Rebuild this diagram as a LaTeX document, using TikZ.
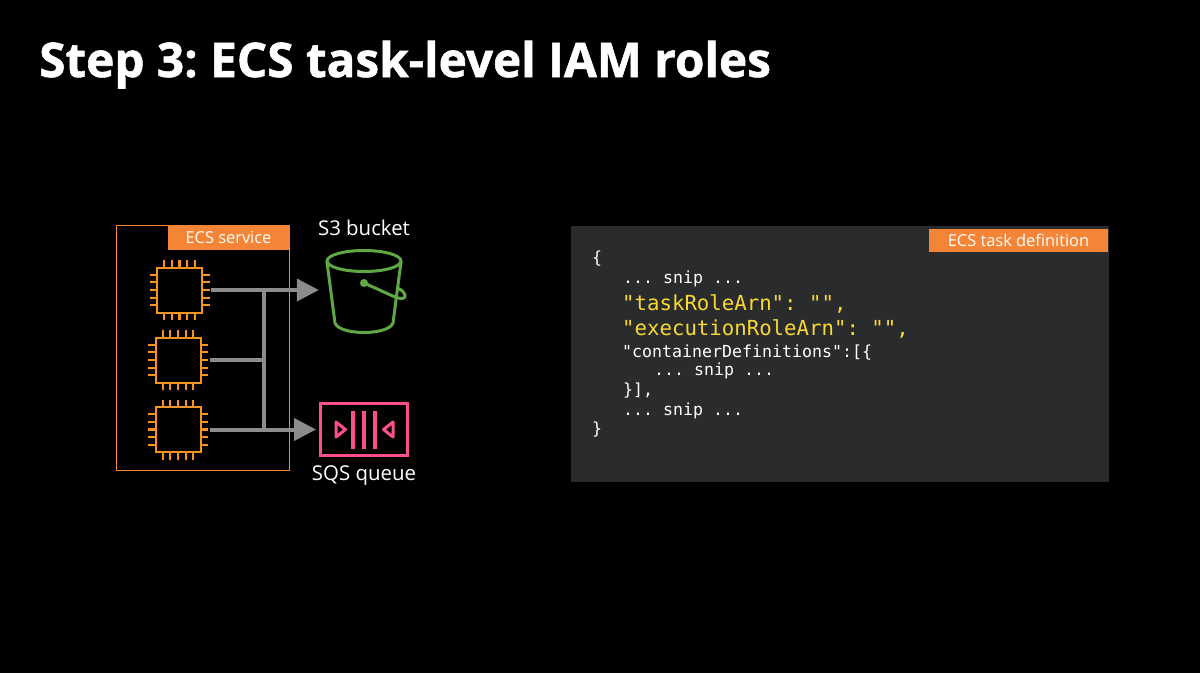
\documentclass[tikz,border=0pt]{standalone}
\usepackage{fontspec}
\setmainfont{Open Sans}
\setmonofont{DejaVu Sans Mono}
\newfontfamily\titlefont[BoldFeatures={FakeBold=1.2}]{Open Sans}
\usetikzlibrary{arrows.meta}
\definecolor{tagorange}{HTML}{F58536}
\definecolor{chiporange}{HTML}{F7931E}
\definecolor{bucketgreen}{HTML}{60A844}
\definecolor{queuepink}{HTML}{FF4F8B}
\definecolor{linkgray}{HTML}{8C8C8C}
\definecolor{panelgray}{HTML}{2A2B2D}
\definecolor{codeyellow}{HTML}{F8D92F}
\tikzset{
	tagbox/.style={fill=tagorange,text=white,anchor=center,inner sep=0pt,font=\fontsize{16.4}{17}\selectfont},
	chipbox/.style={draw=chiporange,line width=2pt,minimum size=45pt,inner sep=0pt},
	chippin/.style={draw=chiporange,line width=2.2pt},
	link/.style={draw=linkgray,line width=4pt},
	linkhead/.style={link,-{Triangle[length=22pt,width=22pt]}},
	iconlabel/.style={text=white,anchor=center,font=\fontsize{20.4}{21}\selectfont},
	codeline/.style={text=white,anchor=base west,inner sep=0pt,font=\ttfamily\fontsize{16.6}{17}\selectfont},
	codehilite/.style={codeline,text=codeyellow,font=\ttfamily\fontsize{20.7}{21}\selectfont},
}
\begin{document}
\begin{tikzpicture}[x=1pt,y=-1pt]
	\fill[black] (0,0) rectangle (1200,673);
	\useasboundingbox (0,0) rectangle (1200,673);
	\node[text=white,anchor=base west,inner sep=0pt,font=\titlefont\bfseries\frenchspacing\fontsize{47.7}{48}\selectfont] (title) at (39,77)
		{Step 3: ECS task-level IAM roles};

	% service frame
	\draw[tagorange,line width=1pt] (116,225) rectangle (289,470);
	\node[tagbox,minimum width=121pt,minimum height=25pt] (servicetag) at (228.5,237.5) {ECS service};

	% chips
	\foreach \n/\cx/\cy in {chipa/179.5/290,chipb/178/360,chipc/178/429.5} {
		\node[chipbox] (\n) at (\cx,\cy) {};
		\foreach \d in {-15.3,-7.65,0,7.65,15.3} {
			\draw[chippin] (\cx+\d,\cy-22.5) -- ++(0,-7.5);
			\draw[chippin] (\cx+\d,\cy+22.5) -- ++(0,7.5);
			\draw[chippin] (\cx-22.5,\cy+\d) -- ++(-7.5,0);
			\draw[chippin] (\cx+22.5,\cy+\d) -- ++(7.5,0);
		}
	}

	% bucket
	\node[inner sep=0pt,minimum width=90pt,minimum height=84pt] (bucket) at (364,290) {};
	\draw[bucketgreen,line width=3pt] (364,261) ellipse (37pt and 10.5pt);
	\draw[bucketgreen,line width=3pt,line join=round] (327,262) -- (335,323)
		.. controls (337,329) and (350,332.5) .. (364,332.5)
		.. controls (378,332.5) and (391,329) .. (393,323) -- (401,262);
	\fill[bucketgreen] (364,283) circle (4pt);
	\draw[bucketgreen,line width=3pt] (364,283) -- (395,297)
		.. controls (401,299.5) and (406,298.5) .. (405,295.5)
		.. controls (404.5,293) and (402,290) .. (398.5,288.5);
	\node[iconlabel] (bucketlabel) at (364,228) {S3 bucket};

	% queue
	\node[draw=queuepink,line width=3pt,minimum width=87pt,minimum height=52pt,inner sep=0pt] (queue) at (364,429.5) {};
	\foreach \x in {353,364,375}
		\draw[queuepink,line width=3.4pt] (\x,411) -- (\x,449);
	\draw[queuepink,line width=3pt,line join=round] (336,422) -- (345.5,429.5) -- (336,437) -- cycle;
	\draw[queuepink,line width=3pt,line join=round] (393,422) -- (383.5,429.5) -- (393,437) -- cycle;
	\node[iconlabel] (queuelabel) at (364,476) {SQS queue};

	% links
	\coordinate (busa) at (264,290);
	\coordinate (busb) at (264,360);
	\coordinate (busc) at (264,429.5);
	\draw[linkhead,shorten <=8pt] (chipa) -- (bucket);
	\draw[link,shorten <=8pt] (chipb) -- (busb);
	\draw[linkhead,shorten <=8pt,shorten >=3pt] (chipc) -- (queue);
	\draw[link] (busa) -- (busc);

	% task definition
	\fill[panelgray] (571,226) rectangle (1109,482);
	\node[tagbox,minimum width=179pt,minimum height=23pt] (tasktag) at (1018.5,240) {ECS task definition};
	\node[codeline] (codea) at (592,263) {\{};
	\node[codeline] (codeb) at (623,283) {... snip ...};
	\node[codehilite] (codec) at (622,310) {"taskRoleArn": "",};
	\node[codehilite] (coded) at (622,335) {"executionRoleArn": "",};
	\node[codeline] (codee) at (622,357) {"containerDefinitions":[\{};
	\node[codeline] (codef) at (654,375) {... snip ...};
	\node[codeline] (codeg) at (623,395) {\}],};
	\node[codeline] (codeh) at (623,415) {... snip ...};
	\node[codeline] (codei) at (592,434) {\}};
\end{tikzpicture}
\end{document}
